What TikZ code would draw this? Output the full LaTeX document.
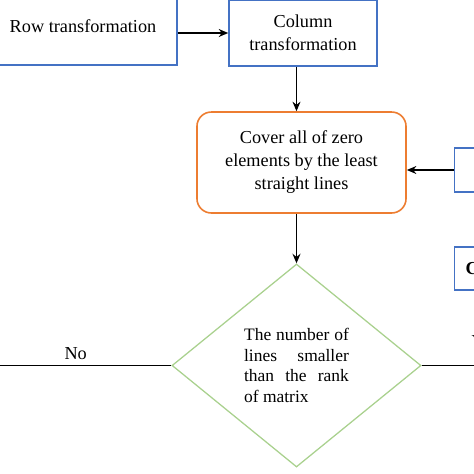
\documentclass[tikz,border=0pt]{standalone}
\usepackage{fontspec}
\setmainfont{Liberation Serif}
\usetikzlibrary{shapes.geometric,arrows.meta}
\definecolor{boxblue}{HTML}{4472C4}
\definecolor{coverorange}{HTML}{ED7D31}
\definecolor{diagreen}{HTML}{A9D18E}

\begin{document}
\begin{tikzpicture}[x=0.63pt, y=-0.63pt,
    box/.style={draw=boxblue, line width=1pt, align=center, font=\fontsize{11.5}{14.5}\selectfont},
    cover/.style={draw=coverorange, line width=1pt, rounded corners=9pt, align=center, font=\fontsize{11.5}{14.5}\selectfont},
    decision/.style={diamond, draw=diagreen, line width=0.8pt, inner sep=0pt, text width=66pt, align=justify, font=\fontsize{11}{13}\selectfont},
    lbl/.style={font=\fontsize{11.5}{14.5}\selectfont},
    arr/.style={-{Stealth[length=6pt,width=5pt]}, line width=1pt},
    flow/.style={line width=1pt}]
    \useasboundingbox (0,0) rectangle (474,474);
    \clip (0,0) rectangle (474,474);
    \node (R) at (83,26) [box, minimum width=118.4pt, minimum height=49.1pt] {Row transformation};
    \node (C) at (303,33) [box, minimum width=93.2pt, minimum height=41.6pt] {Column\\transformation};
    \node (L) at (301.5,162.5) [cover, minimum width=131.7pt, minimum height=63.6pt] {Cover all of zero\\elements by the least\\straight lines};
    \node (K) at (530,170) [box, minimum width=95pt, minimum height=27.7pt] {};
    \node (M) at (530,268.5) [box, minimum width=95pt, minimum height=27pt, text width=81pt, align=left] {\textbf{C}};
    \node (D) at (296.5,365.5) [decision, minimum width=156.9pt, minimum height=127.9pt] {The number of\linebreak lines smaller\linebreak than the rank\linebreak of matrix};
    \coordinate (noend) at (-20,365.5);
    \coordinate (yesend) at (520,365.5);
    \draw[arr] (R.east |- C.west) -- (C.west);
    \draw[arr] (C.south -| D.north) -- (L.north -| D.north);
    \draw[arr] (L.south -| D.north) -- (D.north);
    \draw[arr] (K.west) -- (K.west -| L.east);
    \draw[flow] (D.west) -- node[above, lbl] (no) {No} (noend);
    \draw[flow] (D.east) -- (yesend);
    \node (yes) at (466,342) [anchor=west, lbl] {Yes}; % cut off at the edge
\end{tikzpicture}
\end{document}
